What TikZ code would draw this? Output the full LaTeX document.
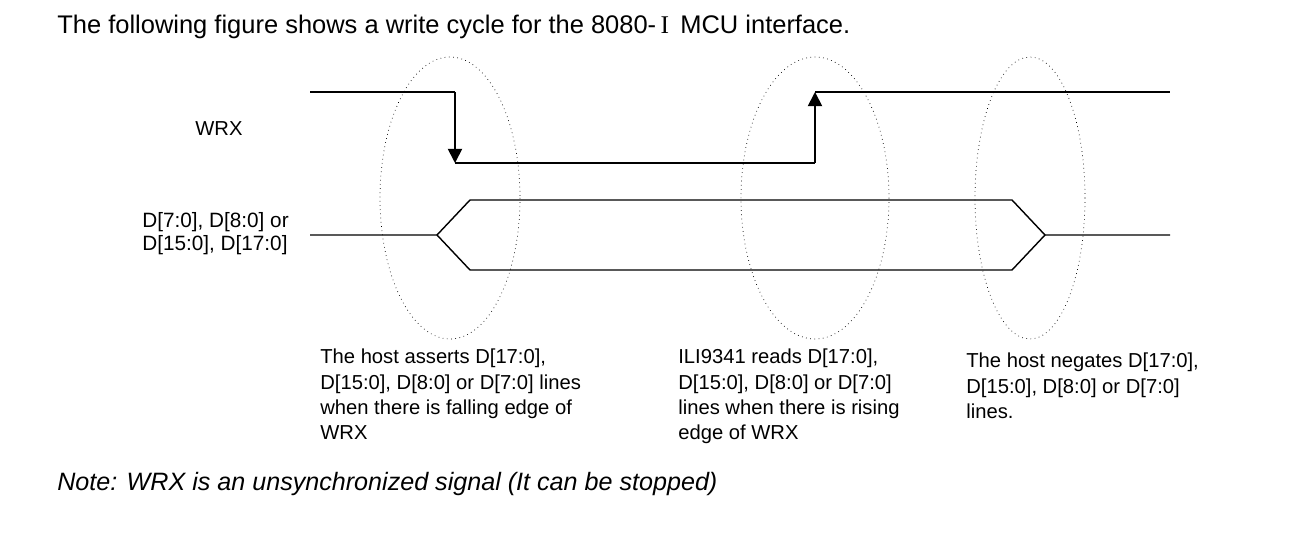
\documentclass[tikz,border=0pt]{standalone}
\usepackage{fontspec}
\setmainfont{Liberation Sans}
\usetikzlibrary{positioning, arrows.meta}
\begin{document}
\begin{tikzpicture}[x=0.02cm,y=-0.02cm,>={Triangle[length=8pt,width=8pt]}]
\tikzstyle{sig}=[line width=1pt]
\tikzstyle{zone}=[draw,dotted,line width=0.4pt]
\tikzstyle{note}=[anchor=north west,align=left,inner sep=0pt,font=\fontsize{11.5}{14.3}\selectfont]
\useasboundingbox (0,0) rectangle (1292,543);

%-- Title and labels --
\node[anchor=west,inner sep=0pt,font=\fontsize{14.5}{18}\selectfont] (title) at (57,27)
  {The following figure shows a write cycle for the 8080-\,{\fontspec{Liberation Serif}I}\, MCU interface.};
\node[anchor=west,inner sep=0pt,font=\fontsize{11.5}{15}\selectfont] (wrx) at (195,129) {WRX};
\node[anchor=west,align=left,inner sep=0pt,font=\fontsize{11.8}{13}\selectfont] (dbus) at (142,234)
  {D[7:0], D[8:0] or\\D[15:0], D[17:0]};

%-- WRX signal --
\coordinate (w0) at (310,92);
\coordinate (w1) at (455,92);
\coordinate (w2) at (455,163);
\coordinate (w3) at (815,163);
\coordinate (w4) at (815,92);
\coordinate (w5) at (1170,92);
\draw[sig] (w0) -- (w1);
\draw[sig,->] (w1) -- (w2);
\draw[sig] (w2) -- (w3);
\draw[sig,->] (w3) -- (w4);
\draw[sig] (w4) -- (w5);

%-- Data bus --
\coordinate (d0) at (310,235);
\coordinate (d1) at (437,235);
\coordinate (d2) at (470,200);
\coordinate (d3) at (470,270);
\coordinate (d4) at (1012,200);
\coordinate (d5) at (1012,270);
\coordinate (d6) at (1045,235);
\coordinate (d7) at (1170,235);
\draw[line width=0.8pt] (d0) -- (d1) -- (d2) -- (d4) -- (d6) -- (d7);
\draw[line width=0.8pt] (d1) -- (d3) -- (d5) -- (d6);

%-- Zones --
\draw[zone] (450,198) ellipse [x radius=70,y radius=141];
\draw[zone] (815,198) ellipse [x radius=74,y radius=141];
\draw[zone] (1030,198) ellipse [x radius=55,y radius=141];

%-- Notes --
\node[note] (n1) at (320,349) {The host asserts D[17:0],\\D[15:0], D[8:0] or D[7:0] lines\\when there is falling edge of\\WRX};
\node[note] (n2) at (678,349) {ILI9341 reads D[17:0],\\D[15:0], D[8:0] or D[7:0]\\lines when there is rising\\edge of WRX};
\node[note] (n3) at (966,353) {The host negates D[17:0],\\D[15:0], D[8:0] or D[7:0]\\lines.};
\node[anchor=west,inner sep=0pt,font=\fontsize{14.3}{18}\selectfont\itshape] (foot) at (57,484)
  {Note: WRX is an unsynchronized signal (It can be stopped)};
\end{tikzpicture}
\end{document}
